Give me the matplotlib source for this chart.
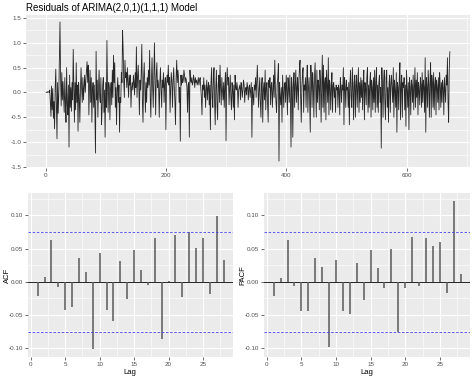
import numpy as np
import matplotlib
matplotlib.use("Agg")
import matplotlib.pyplot as plt
from matplotlib.ticker import MultipleLocator

# residuals (t = 1..672)
resid = [
    0.00, 0.01, 0.00, 0.02, 0.01, 0.00, 0.05, -0.22, -0.48, 0.13, -0.35, 0.08, -0.52, -0.18, -0.73, 0.10, 0.47, -0.25, -0.93, 0.20, -0.42, -0.05, 0.66, 1.42,
    0.30, -0.27, 0.40, -0.15, 0.22, -0.08, -0.40, 0.30, -0.20, -0.60, 0.50, -0.25, -0.45, 0.15, -1.10, 0.35, -0.30, 0.10, -0.38, 0.20, -0.15, 0.87, 0.10, -0.60,
    0.20, -0.35, 0.60, -0.20, 0.15, -0.78, 0.20, -0.10, -0.60, 0.05, 0.50, 0.10, -0.20, 0.30, -0.15, 0.10, 0.35, 0.00, 0.25, 0.45, 0.62, 0.20, 0.55, -0.45,
    0.10, 0.45, -0.20, 0.30, -0.60, 0.05, 0.20, -0.30, 0.15, -0.40, -1.22, 0.83, -0.15, 0.25, -0.50, 0.10, 0.45, -0.10, -0.20, 0.30, -0.65, -0.35, 0.15, 0.30,
    -0.40, 0.05, -0.90, 0.20, -0.30, 1.05, 0.10, -0.40, 0.20, 0.10, -0.55, 0.05, 0.20, -0.25, 0.45, -0.10, 0.75, 0.20, 0.60, -0.30, 0.10, -0.65, 0.05, 0.30,
    -0.20, 0.15, -0.80, -0.10, -0.20, 0.40, 0.20, 1.25, 0.85, 0.25, -0.10, 0.65, 0.30, 0.40, 0.10, 0.50, 0.20, -0.10, 0.35, 0.15, 0.35, -0.30, 0.10, 0.20,
    0.05, 0.35, 0.20, -0.05, 0.40, 0.10, 0.92, -0.10, 0.30, 0.55, 0.15, -0.45, 0.25, 0.05, 0.40, 0.97, -0.20, -0.60, 0.30, 0.60, 0.10, -0.40, 0.20, -0.20,
    0.30, 0.10, 0.45, 0.15, 0.85, -0.10, -0.50, 0.25, 0.70, 0.10, -0.30, 0.40, 1.00, 0.20, -0.45, 0.35, 0.60, 0.10, 0.25, 0.10, -0.50, 0.20, 0.50, 0.05,
    -0.30, 0.25, 0.10, 0.40, -0.20, 0.15, 0.30, -0.75, 0.10, 0.35, 0.20, 0.55, 0.15, 0.30, -0.40, 0.10, 0.40, 0.20, -0.30, 0.25, 0.50, 0.10, -0.20, -0.65,
    0.30, 0.65, 0.20, 0.45, 0.30, -0.20, 0.10, -0.98, 0.35, 0.15, 0.35, 0.20, 0.25, 0.45, 0.35, 0.20, 0.30, 0.25, 0.10, -0.40, 0.15, 0.20, -0.90, 0.45,
    0.25, 0.20, 0.30, 0.15, 0.20, 0.35, 0.25, 0.10, 0.30, 0.20, 0.25, 0.15, 0.20, 0.30, 0.15, 0.25, 0.30, 0.10, -0.10, -0.45, 0.15, 0.05, 0.30, -0.10,
    0.15, -0.30, 0.05, 0.25, -0.15, 0.10, 0.20, -0.25, 0.15, -0.75, 0.20, 0.50, -0.10, -0.30, 0.30, 0.50, -0.20, -0.65, 0.10, 0.45, -0.25, -0.55, 0.15, 0.35,
    -0.20, 0.55, 0.10, -0.25, 0.30, 0.05, -0.15, 0.20, -0.30, 0.15, 0.40, -0.97, 0.20, 0.50, 0.15, 0.30, -0.25, 0.10, 0.35, -0.10, -0.35, 0.20, 0.05, -0.30,
    0.15, -0.55, 0.35, 0.10, 0.05, 0.20, 0.10, -0.30, 0.05, 0.10, 0.15, -0.15, 0.20, 0.10, -0.10, 0.05, 0.25, 0.15, -0.20, 0.05, 0.10, -0.05, 0.20, 0.10,
    -0.15, 0.10, 0.15, -0.10, 0.05, 0.20, -0.90, 0.10, -0.05, -0.25, 0.15, 0.05, 0.30, -0.10, 0.20, 0.55, 0.10, -0.30, 0.05, 0.30, -0.20, -0.50, 0.15, 0.30,
    -0.60, 0.05, 0.20, -0.15, 0.45, -0.35, 0.10, 0.20, -0.20, -0.60, 0.25, 0.10, 0.30, -0.25, 0.15, 0.20, -0.30, 0.05, 0.35, -0.10, 0.65, 0.10, -0.20, -0.40,
    0.15, 0.30, 0.58, -1.38, 0.20, -0.10, -0.25, 0.10, -0.60, 0.35, 0.05, -0.30, 0.15, 0.20, -0.20, 0.35, 0.05, -0.45, 0.30, 0.10, -0.20, 0.35, -0.15, -1.10,
    0.30, 0.10, -0.90, 0.20, 0.40, -0.30, 0.15, 0.45, -0.20, 0.10, 0.30, -0.35, 0.20, 0.50, 0.65, -0.10, -0.60, 0.10, 0.35, 0.50, -0.40, 0.15, 0.05, 0.30,
    -0.30, 0.20, 0.55, -0.40, 0.10, 0.30, -0.20, -0.80, 0.55, 0.20, -0.30, 0.40, 0.15, -0.50, 0.30, 0.60, 0.10, -0.50, 0.45, -0.20, 0.25, 0.15, -0.35, 0.45,
    0.20, -0.60, 0.10, 0.75, -0.30, 0.55, -0.40, 0.20, 0.30, -0.55, 0.45, 0.10, -0.20, 0.70, -0.45, 0.25, 0.15, -0.35, 0.10, 0.40, -0.40, 0.15, 0.20, -0.10,
    0.10, -0.40, 0.15, 0.05, 0.10, -0.30, 0.15, 0.05, -0.45, 0.30, 0.10, -0.20, 0.15, 0.05, 0.50, -0.65, 0.30, 0.10, -0.30, 0.25, 0.05, 0.10, -0.30, 0.20,
    -0.65, 0.20, 0.45, -0.10, -0.30, 0.50, 0.10, -0.55, 0.20, 0.35, -0.50, 0.15, 0.35, -0.30, 0.10, 0.50, -0.40, 0.20, -0.20, 0.30, -0.10, 0.25, -0.35, 0.15,
    0.45, -0.55, 0.20, 0.10, -0.25, 0.30, 0.50, -0.40, 0.15, -0.30, 0.20, 0.40, -0.50, 0.25, 0.10, -0.35, 0.30, -0.20, 0.45, -0.40, 0.20, 0.50, -0.30, 0.15,
    -0.40, 0.20, 0.35, -0.20, 0.10, -1.12, 0.50, 0.05, -0.50, 0.25, 0.45, -0.20, -0.55, 0.30, 0.45, -0.30, 0.10, -0.60, 0.20, 0.35, -0.40, 0.15, 0.35, 0.05,
    -0.20, 0.50, -0.50, 0.25, 0.05, -0.30, 0.40, -0.80, 0.20, 0.10, -0.35, 0.30, 0.60, -0.55, 0.15, 0.35, -0.50, 0.20, 0.10, 0.30, -0.35, 0.15, -0.68, 0.45,
    0.10, -0.30, 0.20, -0.75, 0.30, 0.10, -0.45, 0.25, 0.15, -0.20, 0.35, -0.35, 0.10, 0.50, -0.30, 0.25, -0.10, 0.40, -0.45, 0.20, 0.05, -0.25, 0.30, 0.15,
    -0.30, 0.40, -0.20, 0.25, 0.10, -0.40, 0.70, -0.80, 0.30, 0.10, -0.30, 0.45, 0.15, -0.50, 0.20, 0.60, -0.50, 0.35, 0.20, -0.30, 0.40, -0.35, 0.15, 0.30,
    -0.45, 0.25, 0.10, -0.20, 0.30, -0.35, 0.40, 0.15, -0.30, 0.20, -0.20, 0.25, 0.10, -0.45, 0.30, 0.05, -0.20, 0.35, 0.15, 0.70, -0.20, -0.60, 0.45, 0.82,
]

lags = list(range(1, 29))
acf_vals = [-0.021, 0.0065, 0.063, -0.0085, -0.043, -0.0385, 0.035, 0.0145, -0.102, 0.043,
            -0.043, -0.060, 0.031, -0.0265, 0.0485, 0.0175, -0.0055, 0.0655, -0.0875, 0.001,
            0.0705, -0.023, 0.075, 0.0505, 0.0655, -0.0185, 0.0985, 0.033]
pacf_vals = [-0.0215, 0.006, 0.063, -0.006, -0.0445, -0.045, 0.035, 0.0225, -0.0985, 0.0325,
             -0.0445, -0.049, 0.028, -0.028, 0.0485, 0.0205, -0.0095, 0.050, -0.0755, -0.010,
             0.067, -0.0065, 0.0655, 0.0545, 0.060, -0.0175, 0.1225, 0.0115]
ci = 0.0756

plt.rcParams['font.family'] = ['Liberation Sans', 'DejaVu Sans']

W, H = 474, 379
fig = plt.figure(figsize=(W / 100, H / 100), dpi=100)


def box(l, t, r, b):
    return [l / W, 1 - b / H, (r - l) / W, (b - t) / H]


def gg_style(ax):
    ax.set_facecolor('#EBEBEB')
    for s in ax.spines.values():
        s.set_visible(False)
    ax.grid(which='major', color='white', lw=0.8)
    ax.grid(which='minor', color='white', lw=0.4)
    ax.set_axisbelow(True)
    ax.tick_params(which='major', length=2, width=0.5, color='#333333',
                   labelsize=4.5, labelcolor='#4D4D4D', pad=1.5)
    ax.tick_params(which='minor', length=0)


# top: residual series
ax1 = fig.add_axes(box(26, 15, 470, 168))
t = np.arange(1, len(resid) + 1)
ax1.plot(t, resid, color='#262626', lw=0.6)
ax1.set_xlim(-32.5, 705.5)
ax1.set_ylim(-1.52, 1.56)
ax1.xaxis.set_major_locator(MultipleLocator(200))
ax1.xaxis.set_minor_locator(MultipleLocator(100))
ax1.yaxis.set_major_locator(MultipleLocator(0.5))
ax1.yaxis.set_minor_locator(MultipleLocator(0.25))
ax1.yaxis.set_major_formatter(matplotlib.ticker.FormatStrFormatter('%.1f'))
gg_style(ax1)
fig.text(26 / W, 1 - 8 / H, 'Residuals of ARIMA(2,0,1)(1,1,1) Model',
         fontsize=7, va='center', ha='left')


def corr_panel(rect, vals, ylab, xlab_x, ylab_x):
    ax = fig.add_axes(rect)
    ax.axhline(0, color='black', lw=0.6)
    ax.vlines(lags, 0, vals, color='#595959', lw=1.1)
    ax.axhline(ci, color='#4040F0', lw=0.6, ls=(0, (3, 2)))
    ax.axhline(-ci, color='#4040F0', lw=0.6, ls=(0, (3, 2)))
    ax.set_xlim(-0.4, 29.35)
    ax.set_ylim(-0.114, 0.134)
    ax.xaxis.set_major_locator(MultipleLocator(5))
    ax.xaxis.set_minor_locator(MultipleLocator(2.5))
    ax.yaxis.set_major_locator(MultipleLocator(0.05))
    ax.yaxis.set_minor_locator(MultipleLocator(0.025))
    ax.yaxis.set_major_formatter(matplotlib.ticker.FormatStrFormatter('%.2f'))
    gg_style(ax)
    fig.text(xlab_x / W, 1 - 372 / H, 'Lag', fontsize=5.5, ha='center', va='center')
    fig.text(ylab_x / W, 1 - 275 / H, ylab, fontsize=5.5, ha='center', va='center',
             rotation=90)
    return ax


corr_panel(box(28, 193, 233, 357), acf_vals, 'ACF', 130, 7)
corr_panel(box(264, 193, 470, 357), pacf_vals, 'PACF', 367, 243)

fig.savefig('out.png', dpi=100)
